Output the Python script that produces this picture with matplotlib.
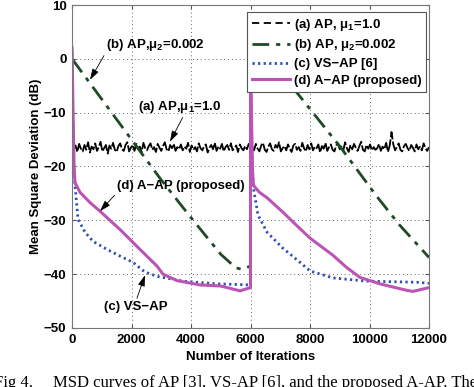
import numpy as np
import matplotlib
matplotlib.use("Agg")
import matplotlib.pyplot as plt
from matplotlib.lines import Line2D

plt.rcParams['font.family'] = ['Liberation Sans', 'DejaVu Sans']
plt.rcParams['font.weight'] = 'bold'
plt.rcParams['axes.labelweight'] = 'bold'
plt.rcParams['mathtext.fontset'] = 'custom'
plt.rcParams['mathtext.rm'] = 'Liberation Sans:bold'
plt.rcParams['mathtext.bf'] = 'Liberation Sans:bold'
plt.rcParams['mathtext.it'] = 'Liberation Sans:bold'
plt.rcParams['mathtext.default'] = 'bf'

# (a) AP, mu1 = 1.0 : fast start, then noisy floor
a_head_x = [0, 15, 30, 45]
a_head_y = [5.4, -3.0, -12.0, -16.5]
a_floor_1 = [
    -16.9, -16.1, -17.3, -15.8, -16.7, -17.2, -16.0, -16.9, -15.5, -17.4,
    -16.3, -16.8, -15.7, -17.1, -16.4, -15.4, -17.2, -16.6, -16.0, -17.6,
    -16.1, -16.7, -15.6, -16.9, -17.3, -16.2, -15.7, -16.8, -17.1, -16.0,
    -15.5, -17.2, -16.5, -16.0, -17.1, -15.8, -16.7, -16.3, -17.4, -15.6,
    -16.6, -17.0, -16.2, -15.7, -16.9, -16.4, -17.3, -15.8, -16.5, -17.1,
    -16.2, -15.5, -16.8, -17.2, -16.0, -16.6, -15.8, -17.1, -16.4, -16.8,
    -15.9, -17.0, -16.3, -16.7, -15.6, -17.3, -16.1, -16.9, -16.4, -17.2,
    -15.7, -16.6, -17.0, -16.2, -15.9, -17.4, -16.5, -16.0, -16.8, -15.6,
    -17.1, -16.3, -16.7, -15.8, -17.2, -16.4, -16.0, -16.9, -15.7, -17.0,
    -16.5, -16.1, -17.3, -15.9, -16.6, -17.0, -16.2, -16.8, -15.8, -16.6]
a_head2_x = [6005, 6020, 6035, 6050]
a_head2_y = [3.0, -5.0, -13.0, -16.4]
a_floor_2 = [
    -16.4, -17.0, -15.8, -16.7, -17.2, -16.1, -15.6, -16.9, -17.3, -16.3,
    -15.7, -16.8, -17.1, -16.0, -16.5, -15.5, -17.2, -16.6, -16.2, -17.0,
    -15.9, -16.7, -17.3, -16.1, -15.8, -16.9, -16.4, -17.1, -15.6, -16.6,
    -17.2, -16.0, -16.8, -15.7, -17.0, -16.3, -16.6, -15.9, -17.4, -16.2,
    -16.7, -15.6, -17.1, -16.4, -15.9, -16.9, -17.2, -16.1, -15.7, -16.8,
    -16.3, -17.0, -15.5, -16.6, -17.3, -16.0, -16.8, -15.8, -16.5, -17.1,
    -16.2, -15.4, -16.9, -17.2, -16.0, -16.7, -15.9, -17.0, -16.4, -16.9,
    -16.6, -15.8, -17.1, -16.3, -16.8, -15.6, -17.3, -16.1, -13.6, -15.9,
    -17.0, -16.4, -15.7, -16.9, -17.2, -16.2, -15.8, -16.6, -17.1, -16.0,
    -16.5, -17.2, -15.9, -16.8, -16.3, -17.0, -15.7, -16.6, -17.1, -16.4]

# (b) AP, mu2 = 0.002
b_x1 = [0, 1000, 2000, 3000, 4000, 5000, 5500, 5710, 6000]
b_y1 = [0.0, -7.5, -15.0, -22.5, -29.5, -36.3, -38.8, -39.1, -38.5]
b_x2 = [6000, 7000, 7664, 9008, 10252, 11000, 12000]
b_y2 = [5.0, -2.5, -7.0, -16.3, -25.6, -30.8, -36.9]

# (c) VS-AP [6]
c_x1 = [0, 20, 60, 101, 202, 437, 706, 1176, 1600, 2050, 2450, 2857, 3731, 4874, 6000]
c_y1 = [1.0, -10.0, -20.0, -23.5, -29.8, -32.2, -33.9, -35.4, -36.6, -37.8, -39.6, -40.4, -41.3, -41.8, -42.0]
c_x2 = [6000, 6020, 6060, 6100, 6250, 6555, 7092, 7664, 8000, 8773, 9900, 11600, 12000]
c_y2 = [1.0, -10.0, -20.0, -24.0, -29.0, -32.2, -35.2, -37.8, -39.4, -40.7, -41.3, -41.5, -41.7]

# (d) A-AP (proposed)
d_x1 = [0, 30, 70, 100, 270, 605, 941, 1613, 2285, 2857, 3060, 3530, 4303, 5000, 5650, 5882, 6000]
d_y1 = [2.0, -8.0, -20.0, -23.0, -24.8, -26.7, -28.3, -31.7, -35.4, -38.5, -40.0, -41.2, -42.0, -42.2, -43.1, -42.7, -42.5]
d_x2 = [6000, 6030, 6070, 6100, 6300, 6555, 7092, 7560, 8000, 8773, 9240, 9680, 10350, 11250, 11460, 12000]
d_y2 = [2.0, -10.0, -21.0, -23.5, -24.8, -25.8, -28.5, -31.0, -33.3, -36.5, -38.8, -40.6, -41.8, -43.0, -43.2, -42.5]

labels = [r'(a) AP, μ$_1$=1.0', r'(b) AP, μ$_2$=0.002', '(c) VS−AP [6]', '(d) A−AP (proposed)']
x_ticks = [0, 2000, 4000, 6000, 8000, 10000, 12000]
y_ticks = [-50, -40, -30, -20, -10, 0, 10]

a_x = a_head_x + list(np.arange(60, 6001, 60)) + a_head2_x + list(np.arange(6060, 12001, 60))
a_y = a_head_y + a_floor_1 + a_head2_y + a_floor_2
b_x = b_x1 + [np.nan] + b_x2
b_y = b_y1 + [np.nan] + b_y2
c_x = c_x1 + c_x2
c_y = c_y1 + c_y2
d_x = d_x1 + d_x2
d_y = d_y1 + d_y2

fig = plt.figure(figsize=(4.74, 3.87), dpi=100)
ax = fig.add_axes([72 / 474, 1 - 328 / 387, 357 / 474, 323 / 387])

ax.plot(a_x, a_y, color='black', linestyle='--', dashes=(7, 1.2), lw=1.3)
lb, = ax.plot(b_x, b_y, color='#1f4a25', linestyle='-.', dashes=(6, 2.5, 1.5, 2.5), lw=2.0)
lc, = ax.plot(c_x, c_y, color='#2f4fb0', linestyle=':', dashes=(0.8, 1.2), lw=2.0)
ld, = ax.plot(d_x, d_y, color='#bb55b5', linestyle='-', lw=2.2)
# legend key for (a) shows the plain dashed style
la = Line2D([], [], color='black', linestyle='--', dashes=(4, 2.5), lw=1.3)

ax.set_xlim(0, 12000)
ax.set_ylim(-50, 10)
ax.set_xticks(x_ticks)
ax.set_yticks(y_ticks)
ax.tick_params(direction='in', length=3, top=True, right=True, labelsize=9.5, color='#555555', pad=4)
for lab in ax.get_xticklabels() + ax.get_yticklabels():
    lab.set_fontweight('bold')
for s in ax.spines.values():
    s.set_color('#777777')
    s.set_linewidth(0.8)
ax.grid(True, linestyle=(0, (1, 3)), color='#666666', lw=0.7)
ax.set_xlabel('Number of Iterations', fontsize=9.5, fontweight='bold', labelpad=4)
ax.set_ylabel('Mean Square Deviation (dB)', fontsize=9.5, fontweight='bold', labelpad=1)

leg = ax.legend([la, lb, lc, ld], labels, loc='upper right', bbox_to_anchor=(0.992, 0.978),
                borderaxespad=0, fontsize=9.5, handlelength=2.9, labelspacing=0.35, fancybox=False,
                framealpha=1, edgecolor='#555555', borderpad=0.35, handletextpad=0.3)
leg.get_frame().set_linewidth(0.8)
for t in leg.get_texts():
    t.set_fontweight('bold')

arrow = dict(arrowstyle='-|>,head_length=0.7,head_width=0.22', color='black', lw=0.6, shrinkA=0, shrinkB=0)
ax.annotate(r'(b) AP,μ$_2$=0.002', xy=(605, -3.9), xytext=(2790, 2.6), fontsize=9.5, fontweight='bold',
            ha='center', va='center', arrowprops=dict(arrow, relpos=(0.0, 0.0)))
ax.annotate(r'(a) AP,μ$_1$=1.0', xy=(3293, -15.4), xytext=(3629, -8.9), fontsize=9.5, fontweight='bold',
            ha='center', va='center', arrowprops=dict(arrow, relpos=(0.55, 0.0)))
ax.annotate('(d) A−AP (proposed)', xy=(941, -28.3), xytext=(3662, -23.7), fontsize=9.5, fontweight='bold',
            ha='center', va='center', arrowprops=dict(arrow, relpos=(0.0, 0.0)))
ax.annotate('(c) VS−AP', xy=(2453, -40.2), xytext=(2150, -46.1), fontsize=9.5, fontweight='bold',
            ha='center', va='center', arrowprops=dict(arrow, relpos=(0.5, 1.0)))

fig.text(-6 / 474, 0 / 387, 'Fig 4.', fontsize=12, family='Liberation Serif',
         weight='normal', ha='left', va='baseline')
fig.text(53 / 474, 0 / 387, 'MSD curves of AP [3], VS-AP [6], and the proposed A-AP. The',
         fontsize=12, family='Liberation Serif', weight='normal', ha='left', va='baseline')

fig.savefig('out.png', dpi=100)
